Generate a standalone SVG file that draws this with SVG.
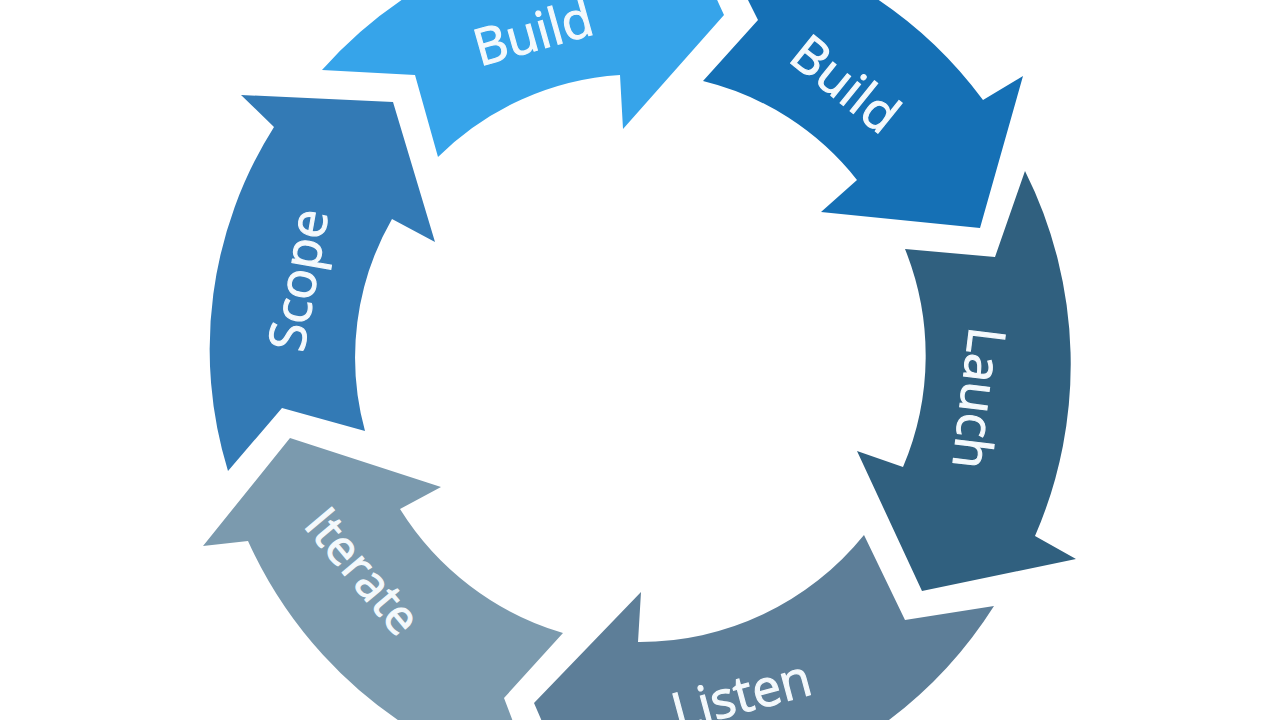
<svg xmlns="http://www.w3.org/2000/svg" width="1280" height="720" viewBox="0 0 1280 720">
<style>
.lbl{font-family:"Open Sans","Noto Sans","DejaVu Sans",sans-serif;font-size:51px;fill:#f4f9fc;stroke:#f4f9fc;stroke-width:1.1px;text-anchor:middle}
.small{font-size:48px}
</style>
<rect width="1280" height="720" fill="#ffffff"/>
<g id="node-build-1">
<path fill="#36a4ea" d="M322,70 L415,75 L438,157 A284 284 0 0 1 620,75 L623,129 L724,15 L708,-20 L434,-20 A429 429 0 0 0 322,70 Z"/>
<text class="lbl" transform="translate(538,50) rotate(-15.7)" x="0" y="0">Build</text>
</g>
<g id="node-build-2">
<path fill="#1570b5" d="M703,81 L758,20 L738,-20 L846,-20 A429 429 0 0 1 983,100 L1023,76 L980,228 L821,212 L857,180 A281 281 0 0 0 703,81 Z"/>
<text class="lbl" transform="translate(834,98) rotate(38.8)" x="0" y="0">Build</text>
</g>
<g id="node-launch">
<path fill="#30607f" d="M1025,171 A431 431 0 0 1 1035,536 L1076,559 L922,591 L857,451 L903,467 A285 285 0 0 0 905,249 L995,257 Z"/>
<text class="lbl" transform="translate(961,396) rotate(97)" x="0" y="0">Lauch</text>
</g>
<g id="node-listen">
<path fill="#5d7e98" d="M994,606 A433 433 0 0 1 860,740 L550,740 L534,703 L641,592 L638,642 A288 288 0 0 0 864,535 L905,620 Z"/>
<text class="lbl" transform="translate(746,712) rotate(-15)" x="0" y="0">Listen</text>
</g>
<g id="node-iterate">
<path fill="#7b9aae" d="M290,438 L441,487 L400,509 A288 288 0 0 0 563,633 L504,698 L520,740 L430,740 A433 433 0 0 1 248,541 L203,546 Z"/>
<text class="lbl small" transform="translate(350,582) rotate(50)" x="0" y="0">Iterate</text>
</g>
<g id="node-scope">
<path fill="#337ab5" d="M241,95 L393,102 L435,242 L392,219 A278 278 0 0 0 365,431 L282,408 L228,471 A415 415 0 0 1 274,127 Z"/>
<text class="lbl" transform="translate(316,283) rotate(-80)" x="0" y="0">Scope</text>
</g>
<g id="connectors"></g>
</svg>
